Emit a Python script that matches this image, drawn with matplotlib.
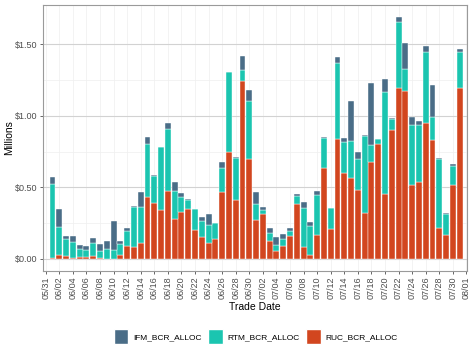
import numpy as np
import pandas as pd
import matplotlib
matplotlib.use("Agg")
import matplotlib.pyplot as plt
import matplotlib.dates as mdates
from matplotlib.patches import Patch

plt.rcParams['font.family'] = ['Liberation Sans', 'DejaVu Sans']

# daily trade dates 06/01 .. 07/31
dates = pd.date_range("2020-06-01", "2020-07-31", freq="D")

# values in $ millions
ruc = [0.005, 0.028, 0.019, 0.009, 0.012, 0.014, 0.019, 0.005, 0.0, 0.0,
       0.030, 0.093, 0.084, 0.111, 0.432, 0.394, 0.341, 0.473, 0.276, 0.327,
       0.350, 0.200, 0.155, 0.114, 0.137, 0.469, 0.749, 0.415, 1.244, 0.698,
       0.269, 0.311, 0.123, 0.056, 0.088, 0.158, 0.387, 0.084, 0.026, 0.169,
       0.638, 0.206, 0.838, 0.601, 0.566, 0.478, 0.320, 0.680, 0.800, 0.452,
       0.903, 1.197, 1.172, 0.513, 0.536, 0.951, 0.833, 0.218, 0.167, 0.513,
       1.197]
rtm_top = [0.524, 0.223, 0.142, 0.118, 0.072, 0.063, 0.109, 0.056, 0.067, 0.060,
           0.104, 0.195, 0.364, 0.364, 0.800, 0.582, 0.784, 0.907, 0.473, 0.434,
           0.415, 0.346, 0.265, 0.234, 0.248, 0.633, 1.305, 0.707, 1.318, 1.100,
           0.387, 0.343, 0.179, 0.097, 0.137, 0.195, 0.443, 0.353, 0.230, 0.450,
           0.842, 0.353, 1.369, 0.814, 0.821, 0.701, 0.861, 0.794, 0.835, 1.167,
           0.978, 1.657, 1.329, 0.933, 0.937, 1.443, 0.995, 0.698, 0.316, 0.647,
           1.443]
total = [0.575, 0.350, 0.162, 0.158, 0.097, 0.090, 0.144, 0.104, 0.128, 0.265,
         0.128, 0.218, 0.367, 0.466, 0.854, 0.585, 0.784, 0.951, 0.534, 0.462,
         0.422, 0.346, 0.295, 0.311, 0.253, 0.677, 1.309, 0.712, 1.415, 1.183,
         0.466, 0.362, 0.213, 0.155, 0.174, 0.216, 0.452, 0.399, 0.258, 0.476,
         0.854, 0.353, 1.413, 0.847, 1.104, 0.747, 0.868, 1.230, 0.840, 1.260,
         0.984, 1.689, 1.506, 0.995, 0.963, 1.485, 1.213, 0.705, 0.323, 0.664,
         1.469]

ruc = np.array(ruc)
rtm = np.array(rtm_top) - ruc
ifm = np.array(total) - np.array(rtm_top)

c_ifm = "#4a6d87"
c_rtm = "#1bc5b0"
c_ruc = "#d2461f"

fig = plt.figure(figsize=(4.74, 3.55), dpi=100)
ax = fig.add_axes([0.0914, 0.2366, 0.8932, 0.7493])

w = 0.88
ax.bar(dates, ruc, width=w, color=c_ruc, edgecolor="white", linewidth=0.3, zorder=3)
ax.bar(dates, rtm, width=w, bottom=ruc, color=c_rtm, edgecolor="white", linewidth=0.3, zorder=3)
ax.bar(dates, ifm, width=w, bottom=ruc + rtm, color=c_ifm, edgecolor="white", linewidth=0.3, zorder=3)

start = pd.Timestamp("2020-05-31")
ax.set_xlim(start - pd.Timedelta(hours=8.5), pd.Timestamp("2020-08-01") + pd.Timedelta(hours=1))
ax.set_ylim(-0.0845, 1.774)

ticks = pd.date_range("2020-05-31", "2020-08-01", freq="2D")
ax.set_xticks(ticks)
ax.xaxis.set_major_formatter(mdates.DateFormatter("%m/%d"))
ax.set_yticks([0, 0.5, 1.0, 1.5])
ax.set_yticklabels(["$0.00", "$0.50", "$1.00", "$1.50"])
ax.set_yticks([0.25, 0.75, 1.25], minor=True)

ax.grid(True, which="major", axis="y", color="#d2d2d2", linewidth=0.8, zorder=0)
ax.grid(True, which="minor", axis="y", color="#efefef", linewidth=0.5, zorder=0)
ax.grid(True, which="major", axis="x", color="#efefef", linewidth=0.5, zorder=0)

for s in ax.spines.values():
    s.set_color("#9a9a9a")
    s.set_linewidth(0.8)

ax.tick_params(axis="x", rotation=90, labelsize=6.5, colors="#4d4d4d", length=2.5, width=0.6, pad=1.5)
ax.tick_params(axis="y", labelsize=6.5, colors="#4d4d4d", length=2.5, width=0.6, pad=1.5)
ax.tick_params(which="minor", length=0)
for lab in ax.get_xticklabels() + ax.get_yticklabels():
    lab.set_color("#4d4d4d")

ax.set_xlabel("Trade Date", fontsize=7.5, labelpad=2)
ax.set_ylabel("Millions", fontsize=7.5, labelpad=1)

handles = [Patch(facecolor=c_ifm, edgecolor="white"),
           Patch(facecolor=c_rtm, edgecolor="white"),
           Patch(facecolor=c_ruc, edgecolor="white")]
fig.legend(handles, ["IFM_BCR_ALLOC", "RTM_BCR_ALLOC", "RUC_BCR_ALLOC"],
           loc="center", bbox_to_anchor=(0.54, 0.052), ncol=3, frameon=False,
           fontsize=6, handlelength=1.7, handleheight=2.4, handletextpad=0.6,
           columnspacing=0.8)

fig.savefig("out.png", dpi=100)
